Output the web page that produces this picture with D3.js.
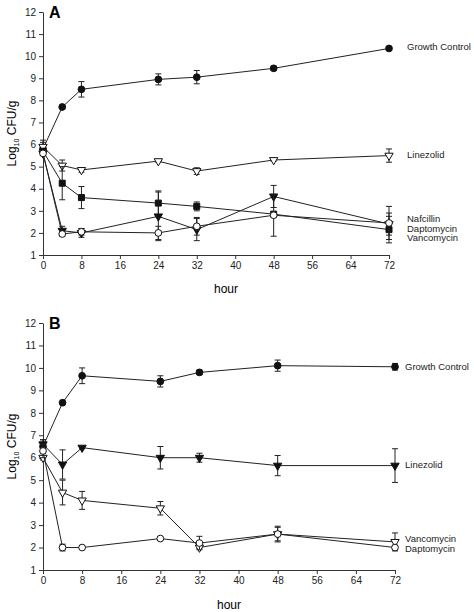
<!DOCTYPE html>
<html><head><meta charset="utf-8">
<script src="https://cdn.jsdelivr.net/npm/d3@7"></script>
<style>body{margin:0;background:#fff}svg{font-family:Arial,"Liberation Sans",sans-serif}</style>
</head><body>
<svg id="c" width="474" height="612"></svg>
<script>
var hours = [0, 4, 8, 24, 32, 48, 72];
var xTicks = [0, 8, 16, 24, 32, 40, 48, 56, 64, 72];

// panel A
var aGrowth = [5.8, 7.7, 8.5, 8.95, 9.05, 9.45, 10.35];
var aGrowthErr = [0.3, 0.05, 0.35, 0.25, 0.3, 0.1, 0.08];
var aLinez = [5.9, 5.05, 4.85, 5.25, 4.8, 5.3, 5.5];
var aLinezErr = [0.3, 0.25, 0.1, 0.05, 0.15, 0.05, 0.3];
var aNaf = [5.7, 4.25, 3.6, 3.35, 3.2, 2.85, 2.15];
var aNafErr = [0.1, 0.75, 0.5, 0.55, 0.2, 0.05, 0.6];
var aDapto = [5.6, 2.1, 2.0, 2.75, 2.15, 3.65, 2.4];
var aDaptoErr = [0.1, 0.2, 0.2, 1.1, 0.5, 0.5, 0.5];
var aVanco = [5.6, 1.95, 2.05, 2.0, 2.3, 2.8, 2.45];
var aVancoErr = [0.1, 0.1, 0.15, 0.3, 0.4, 0.95, 0.75];

// panel B
var bGrowth = [6.5, 8.45, 9.65, 9.4, 9.8, 10.1, 10.05];
var bGrowthErr = [0.3, 0.05, 0.35, 0.25, 0.1, 0.25, 0.15];
var bLinez = [6.6, 5.7, 6.45, 6.0, 6.0, 5.65, 5.65];
var bLinezErr = [0.2, 0.65, 0.05, 0.5, 0.2, 0.45, 0.75];
var bVanco = [6.0, 4.45, 4.1, 3.75, 2.0, 2.6, 2.25];
var bVancoErr = [0.1, 0.55, 0.4, 0.3, 0.05, 0.3, 0.4];
var bDapto = [6.3, 2.0, 2.0, 2.4, 2.2, 2.6, 2.0];
var bDaptoErr = [0.3, 0.15, 0.05, 0.05, 0.3, 0.35, 0.1];

var panels = [
  {letter: "A", x0: 43, x1: 389, yTop: 12, yBot: 255, hourY: 293, labDx: 18,
   series: [
    {name: "Growth Control", v: aGrowth, e: aGrowthErr, sym: "circle", fill: true, lab: 10.45},
    {name: "Linezolid", v: aLinez, e: aLinezErr, sym: "tri", fill: false, lab: 5.55},
    {name: "Nafcillin", v: aNaf, e: aNafErr, sym: "square", fill: true, lab: 2.65},
    {name: "Daptomycin", v: aDapto, e: aDaptoErr, sym: "tri", fill: true, lab: 2.22},
    {name: "Vancomycin", v: aVanco, e: aVancoErr, sym: "circle", fill: false, lab: 1.79}
  ]},
  {letter: "B", x0: 43, x1: 395, yTop: 323, yBot: 570, hourY: 609, labDx: 10,
   series: [
    {name: "Growth Control", v: bGrowth, e: bGrowthErr, sym: "circle", fill: true, lab: 10.05},
    {name: "Linezolid", v: bLinez, e: bLinezErr, sym: "tri", fill: true, lab: 5.7},
    {name: "Vancomycin", v: bVanco, e: bVancoErr, sym: "tri", fill: false, lab: 2.4},
    {name: "Daptomycin", v: bDapto, e: bDaptoErr, sym: "circle", fill: false, lab: 1.97}
  ]}
];

var svg = d3.select("#c");
var symT = {circle: d3.symbolCircle, tri: d3.symbolTriangle, square: d3.symbolSquare};

panels.forEach(function(p) {
  var x = d3.scaleLinear().domain([0, 72]).range([p.x0, p.x1]);
  var y = d3.scaleLinear().domain([1, 12]).range([p.yBot, p.yTop]);
  var g = svg.append("g");

  g.append("g").attr("transform", "translate(0," + p.yBot + ")")
    .call(d3.axisBottom(x).tickValues(xTicks).tickSize(4).tickSizeOuter(0));
  g.append("g").attr("transform", "translate(" + p.x0 + ",0)")
    .call(d3.axisLeft(y).ticks(11).tickSize(4).tickSizeOuter(0));
  g.selectAll(".tick text").attr("font-size", 10).attr("fill", "#222");
  g.selectAll(".domain,.tick line").attr("stroke", "#333");

  g.append("text").attr("x", p.x0 + 6).attr("y", p.yTop + 6)
    .attr("font-size", 16).attr("font-weight", "bold").text(p.letter);
  g.append("text").attr("x", (p.x0 + p.x1) / 2 + 10).attr("y", p.hourY)
    .attr("text-anchor", "middle").attr("font-size", 12).text("hour");
  var yl = g.append("text").attr("transform", "translate(16," + ((p.yTop + p.yBot) / 2) + ") rotate(-90)")
    .attr("text-anchor", "middle").attr("font-size", 12);
  yl.append("tspan").text("Log");
  yl.append("tspan").attr("font-size", 7).attr("dy", 3).text("10");
  yl.append("tspan").attr("dy", -3).text(" CFU/g");

  var line = d3.line().x(function(d, i) { return x(hours[i]); }).y(function(d) { return y(d); });

  p.series.forEach(function(s) {
    g.append("path").datum(s.v).attr("d", line).attr("fill", "none").attr("stroke", "#222").attr("stroke-width", 1);
    s.v.forEach(function(v, i) {
      var cx = x(hours[i]);
      g.append("line").attr("x1", cx).attr("x2", cx).attr("y1", y(v - s.e[i])).attr("y2", y(v + s.e[i])).attr("stroke", "#222");
      [v - s.e[i], v + s.e[i]].forEach(function(w) {
        g.append("line").attr("x1", cx - 3).attr("x2", cx + 3).attr("y1", y(w)).attr("y2", y(w)).attr("stroke", "#222");
      });
    });
    g.selectAll(null).data(s.v).enter().append("path")
      .attr("d", d3.symbol().type(symT[s.sym]).size(s.sym == "tri" ? 30 : 36))
      .attr("transform", function(d, i) {
        return "translate(" + x(hours[i]) + "," + y(d) + ")" + (s.sym == "tri" ? " rotate(180)" : "");
      })
      .attr("fill", s.fill ? "#111" : "#fff").attr("stroke", "#111").attr("stroke-width", 1);
    g.append("text").attr("x", p.x1 + p.labDx).attr("y", y(s.lab) + 3.5).attr("font-size", 9.5).attr("fill", "#222").text(s.name);
  });
});
</script>
</body></html>
